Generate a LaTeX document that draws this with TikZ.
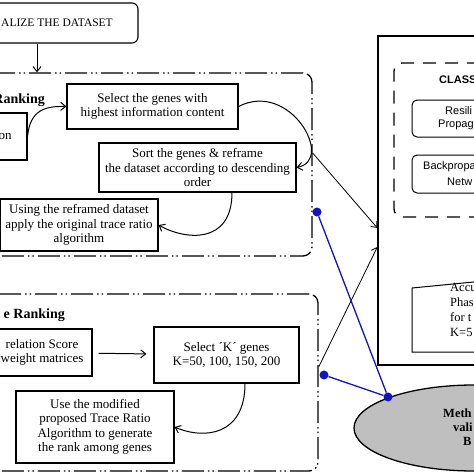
\documentclass[tikz,border=0pt]{standalone}
\usepackage{fontspec}
\setmainfont{Liberation Serif}
\setsansfont{Liberation Sans}
\usepackage{tikz}
\usetikzlibrary{arrows.meta,positioning,shapes.geometric}
\definecolor{linkblue}{RGB}{20,20,190}
\tikzset{
  genebox/.style={draw,line width=1.1pt,align=center,inner sep=2pt},
  panel/.style={draw,line width=1.3pt,rounded corners=9pt,
    dash pattern=on 22pt off 4pt on 1.5pt off 3pt on 1.5pt off 4pt},
  paneltitle/.style={font=\bfseries\fontsize{14}{16}\selectfont,inner sep=0pt},
  sanstext/.style={font=\sffamily\fontsize{11}{13}\selectfont,inner sep=0pt,anchor=west},
  valtext/.style={font=\bfseries\fontsize{12.5}{14}\selectfont,inner sep=0pt,anchor=west},
  dot/.style={circle,fill=linkblue,inner sep=0pt,minimum size=9pt},
  link/.style={line width=1.3pt,linkblue},
  every node/.style={font=\fontsize{13}{14.5}\selectfont}
}
\tikzstyle{arrow} = [line width=1pt,->,>={Straight Barb[length=5pt,width=8pt]}]

\begin{document}
\begin{tikzpicture}[x=1pt,y=-1pt]
  \useasboundingbox (0,0) rectangle (474,474);
  \clip (0,0) rectangle (474,474);
  % dataset
  \node[genebox,rounded corners=6pt,minimum width=162pt,minimum height=40pt,
    font=\fontsize{11.5}{14}\selectfont] (init) at (57,23) {ALIZE THE DATASET};
  \coordinate (drop) at (37,0);

  % first ranking panel
  \node[panel,minimum width=342pt,minimum height=183pt] (panA) at (141,164.5) {};
  \node[paneltitle,anchor=east] (titA) at (45,100) {Ranking};
  \node[genebox,minimum width=44pt,minimum height=47pt] (gsel) at (5,136.5) {on};
  \node[genebox,minimum width=171pt,minimum height=45pt] (hinfo) at (152.5,106.5)
    {Select the genes with\\highest information content};
  \node[genebox,minimum width=197pt,minimum height=49pt] (sortg) at (197.5,167.5)
    {Sort the genes \& reframe\\the dataset according to descending\\order};
  \node[genebox,minimum width=158pt,minimum height=52pt] (trace) at (79,225)
    {Using the reframed dataset\\apply the original trace ratio\\algorithm};

  \draw[arrow] (init.south -| drop) -- (panA.north -| drop);
  \draw[arrow] (gsel.east) .. controls (30,110) and (45,106) .. (hinfo.west);
  \draw[arrow] (hinfo.east) .. controls (290,80) and (335,160) .. (sortg.east);
  \draw[arrow] ([xshift=34.5pt]sortg.south) .. controls (232,245) and (185,240) .. (trace.east);

  % second ranking panel
  \node[panel,minimum width=348pt,minimum height=177pt] (panB) at (144,382.5) {};
  \node[paneltitle,anchor=east] (titB) at (65,315) {e Ranking};
  \node[genebox,minimum width=100pt,minimum height=47pt] (corr) at (42,352.5)
    {relation Score\\weight matrices};
  \node[genebox,minimum width=145pt,minimum height=56pt] (selk) at (226.5,355)
    {Select ´K´ genes\\K=50, 100, 150, 200};
  \node[genebox,minimum width=158pt,minimum height=72pt] (trmod) at (95,427)
    {Use the modified\\proposed Trace Ratio\\Algorithm to generate\\the rank among genes};

  \draw[arrow,shorten <=6pt,shorten >=7pt] (corr) -- (selk);
  \draw[arrow] ([xshift=18.5pt]selk.south) .. controls (245,435) and (205,440) .. (trmod.east);

  % classifier side
  \node[draw,line width=1.3pt,minimum width=200pt,minimum height=329pt] (outer) at (478,200.5) {};
  \node[draw,line width=1.3pt,rounded corners=8pt,dash pattern=on 13pt off 9pt,
    minimum width=160pt,minimum height=154pt] (clsgrp) at (474,140) {};
  \node[font=\sffamily\bfseries\fontsize{11}{13}\selectfont,anchor=west,inner sep=0pt]
    (clstitle) at (439,80) {CLASS};
  \node[draw,line width=1pt,rounded corners=5pt,minimum width=140pt,minimum height=37pt]
    (rprop) at (482,118.5) {};
  \node[sanstext] (rpropa) at (445,111) {Resili};
  \node[sanstext] (rpropb) at (438,125) {Propag};
  \node[draw,line width=1pt,rounded corners=5pt,minimum width=140pt,minimum height=38pt]
    (bprop) at (482,174) {};
  \node[sanstext] (bpropa) at (423,167) {Backpropa};
  \node[sanstext] (bpropb) at (447,182) {Netw};
  \draw[line width=1pt] (412,288) -- (520,277.5) -- (520,352) -- (412,352) -- cycle;
  \node[anchor=north west,align=left,inner sep=0pt,font=\fontsize{12.5}{15}\selectfont]
    (accu) at (450,283) {Accu\\Phas\\for t\\K=5};

  % validation
  \node[ellipse,draw,line width=1.3pt,fill=gray!50,minimum width=240pt,minimum height=86pt]
    (valid) at (474,428) {};
  \node[valtext] (valA) at (443,413) {Meth};
  \node[valtext] (valB) at (453,427) {vali};
  \node[valtext] (valC) at (463,441) {B};

  \draw[arrow,line width=0.8pt] ([yshift=11.5pt]panA.east) -- ([yshift=-27.5pt]outer.west);
  \draw[arrow,line width=0.8pt] ([yshift=15.5pt]panB.east) -- ([yshift=-46.5pt]outer.west);

  % blue links
  \node[dot] (dotA) at (317,212) {};
  \node[dot] (dotB) at (324,375) {};
  \node[dot] (dotC) at (388,397) {};
  \draw[link] (dotA) -- (dotC);
  \draw[link] (dotB) -- (dotC);
\end{tikzpicture}
\end{document}
